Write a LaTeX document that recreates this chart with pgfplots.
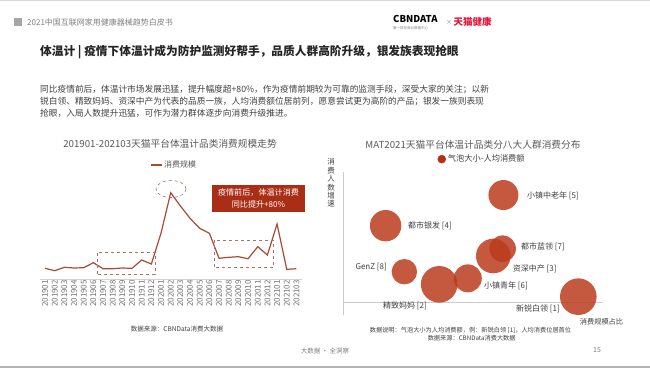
\documentclass[border=0pt]{standalone}
\usepackage{fontspec}
\setmainfont{Noto Sans CJK SC}
\usepackage{pgfplots}
\pgfplotsset{compat=1.18}
\usepackage{pgfplotstable}

\definecolor{linec}{RGB}{168,74,52}
\definecolor{boxred}{RGB}{170,46,22}
\definecolor{dashc}{RGB}{165,115,105}
\definecolor{bubc}{RGB}{186,60,30}
\definecolor{bubdark}{RGB}{178,48,24}
\definecolor{txt}{RGB}{64,64,64}
\definecolor{ttl}{RGB}{89,89,89}
\definecolor{tmred}{RGB}{230,20,60}
\newcommand{\fs}[1]{\fontsize{#1pt}{#1pt}\selectfont}

% monthly consumption scale (index, relative value)
\pgfplotstableread{
i v
0 10.7
1 8.3
2 11.7
3 11
4 11.3
5 16.3
6 10.3
7 10.3
8 11
9 10.7
10 19
11 15
12 46
13 86.3
14 73
15 60.7
16 50.7
17 45.7
18 20.7
19 21.7
20 22.3
21 20.3
22 32.3
23 24
24 55
25 9.7
26 10.3
}\trend

% consumer groups: share of scale, growth of buyers, bubble radius (spend per head)
\pgfplotstableread{
x y r
61.7 82.3 15
16.4 58.7 15.7
57.8 35.4 17.3
61.4 41.0 13.3
23.6 23.3 12.7
37.0 13.6 18.3
48.0 18.2 14
90.5 4.1 18.3
}\groups

\begin{document}
\begin{tikzpicture}[x=1pt,y=-1pt]
\path[fill=white,use as bounding box] (0,0) rectangle (650,368);

% page header
\draw[gray!30, line width=1pt] (0,0.5) -- (650,0.5);
\fill[gray!70] (14,18) rectangle (22,26);
\node[anchor=west, text=gray, font=\fs{8}, inner sep=0] at (27,22) {2021中国互联网家用健康器械趋势白皮书};
\node[anchor=west, font=\bfseries\fs{9.5}, inner sep=0] at (393,18.5) {CBNDATA};
\node[anchor=west, font=\fs{3.5}, inner sep=0, text=gray] at (393,28.5) {第一财经商业数据中心};
\node[font=\fs{6}, text=gray, inner sep=0] at (449,22) {×};
\node[anchor=west, font=\bfseries\fs{9.5}, text=tmred, inner sep=0] at (453.5,21.5) {天猫健康};

% headline and summary
\node[anchor=west, inner sep=0, font=\bfseries\fs{11.7}, text=black!85] at (40,52) {体温计 | 疫情下体温计成为防护监测好帮手，品质人群高阶升级，银发族表现抢眼};
\begin{scope}[every node/.style={anchor=west, inner sep=0, font=\fs{8.7}, text=txt}]
\node at (40,89.3) {同比疫情前后，体温计市场发展迅猛，提升幅度超+80\%，作为疫情前期较为可靠的监测手段，深受大家的关注；以新};
\node at (40,101.7) {锐白领、精致妈妈、资深中产为代表的品质一族，人均消费额位居前列，愿意尝试更为高阶的产品；银发一族则表现};
\node at (40,113.3) {抢眼，入局人数提升迅猛，可作为潜力群体逐步向消费升级推进。};
\end{scope}

% chart titles
\node[font=\fs{9.7}, text=ttl] at (170,144) {201901-202103天猫平台体温计品类消费规模走势};
\node[font=\fs{9.7}, text=ttl] at (473,145) {MAT2021天猫平台体温计品类分八大人群消费分布};

% trend chart
\begin{axis}[
  at={(40.2pt,-279pt)}, anchor=south west,
  scale only axis, width=262pt, height=100pt,
  xmin=-0.5, xmax=26.6, ymin=0, ymax=100,
  axis x line*=bottom, axis y line=none, ytick=\empty,
  x axis line style={draw=gray!35, line width=0.8pt, -},
  xtick={0,...,26},
  xticklabels={201901,201902,201903,201904,201905,201906,201907,201908,201909,201910,201911,201912,202001,202002,202003,202004,202005,202006,202007,202008,202009,202010,202011,202012,202101,202102,202103},
  xticklabel style={rotate=90, anchor=east, font=\fs{8}, text=ttl!85, inner sep=1pt},
  major tick length=0pt,
  /pgf/number format/assume math mode=true,
  clip=false,
  legend style={at={(0.511,1.14)}, anchor=center, draw=none, fill=none, font=\fs{8}, text=ttl, inner sep=0pt},
  legend image code/.code={\draw[#1, line width=1.3pt] (0pt,0pt) -- (11pt,0pt);},
]
\addplot[linec, line width=1.2pt, mark=none] table[x=i, y=v] {\trend};
\addlegendentry{消费规模}
\draw[dashc, dashed, line width=0.6pt] (axis cs:5.4,5) rectangle (axis cs:11.4,27);
\draw[dashc, dashed, line width=0.6pt] (axis cs:17.5,12) rectangle (axis cs:23.65,39);
\draw[dashc, dashed, line width=0.6pt] (axis cs:13.03,90) ellipse [x radius=15pt, y radius=8.5pt];
\end{axis}

% callout
\fill[boxred] (212,185) rectangle (305,212);
\node[text=white, font=\fontsize{8.1pt}{12pt}\selectfont, align=center, inner sep=0] at (258.5,198.5) {疫情前后，体温计消费\\同比提升+80\%};

% bubble chart
\begin{axis}[
  at={(343pt,-315pt)}, anchor=south west,
  scale only axis, width=260pt, height=143pt,
  xmin=0, xmax=100, ymin=-10, ymax=100,
  axis x line=middle, axis y line=left,
  axis line style={draw=gray!40, line width=0.6pt, -},
  xtick=\empty, ytick=\empty,
  clip=false,
  legend style={at={(0.535,1.09)}, anchor=center, draw=none, fill=none, font=\fs{8.2}, text=txt},
  legend image code/.code={\fill[bubdark] (5pt,0pt) circle (4pt);},
]
\addplot[scatter, only marks, mark=*,
  scatter/use mapped color={draw=none, draw opacity=0, fill=bubc, fill opacity=0.85},
  visualization depends on={\thisrow{r}\as\rad},
  scatter/@pre marker code/.append style={/tikz/mark size=\rad},
] table[x=x, y=y] {\groups};
\addlegendentry{气泡大小-人均消费额}
\end{axis}

% group labels
\begin{scope}[every node/.style={inner sep=0, font=\fs{8}, text=txt}]
\node[anchor=west] at (527,195.7) {小镇中老年 [5]};
\node[anchor=west] at (408,226) {都市银发 [4]};
\node[anchor=west] at (521,246.7) {都市蓝领 [7]};
\node[anchor=west] at (512.7,268.7) {资深中产 [3]};
\node[anchor=east] at (387,267.3) {GenZ [8]};
\node[anchor=west] at (484,286) {小镇青年 [6]};
\node[anchor=west] at (383,306) {精致妈妈 [2]};
\node[anchor=west] at (516,308.3) {新锐白领 [1]};
\end{scope}
\node[font=\fontsize{7.5pt}{8.4pt}\selectfont, text=txt, align=center, inner sep=0] at (331,183) {消\\费\\人\\数\\增\\速};
\node[font=\fs{7.2}, text=txt, inner sep=0] at (601.5,322) {消费规模占比};

% notes and footer
\node[font=\fs{6.5}, text=txt, inner sep=0] at (177,329) {数据来源：CBNData消费大数据};
\node[font=\fs{6.2}, text=txt, inner sep=0] at (470.5,330) {数据说明：气泡大小为人均消费额，例：新锐白领 [1]，人均消费位居首位};
\node[font=\fs{6.2}, text=txt, inner sep=0] at (471.7,337.7) {数据来源：CBNData消费大数据};
\node[font=\fs{6.5}, text=gray, inner sep=0] at (325,351) {大数据 · 全洞察};
\node[font=\fs{7}, text=gray, inner sep=0] at (597,350) {15};
\fill[gray!60] (0,365.5) rectangle (650,368);
\end{tikzpicture}
\end{document}
